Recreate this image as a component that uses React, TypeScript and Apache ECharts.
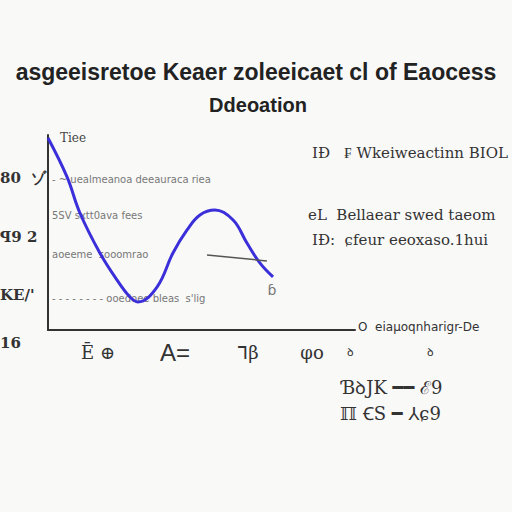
import React, { useEffect, useRef } from "react";
import * as echarts from "echarts";

const titleLines = ["asgeeisretoe Keaer zoleeicaet cl of Eaocess", "Ddeoation"];
const curveX = [0, 0.62, 1.04, 1.69, 2.25, 2.67, 2.93, 3.55, 4.07, 4.53, 4.95, 5.44, 6.03, 6.48, 6.9, 7.33];
const curveY = [9.85, 7.85, 6.0, 3.95, 2.56, 1.69, 1.44, 2.2, 3.95, 5.13, 5.9, 6.15, 5.64, 4.46, 3.44, 2.72];
const segX = [5.18, 7.13];
const segY = [3.85, 3.54];
const yLabels = ["80  ゾ", "ꟼ9 2", "KE/'", "16"];
const yLabelPos = [178, 237, 295, 343];
const xLabels = ["Ē ⊕", "A=", "ᒣβ", "φo", "ꝺ", "ꝺ"];
const xLabelPos = [98, 175, 248, 312, 350, 430];
const noteTexts = ["- ~ uealmeanoa deeauraca riea", "5SV sxtt0ava fees", "aoeeme  sooomrao", "- - - - - - - - ooedoee bleas  s'lig"];
const notePos = [179, 215, 254, 298];
const rightTexts = ["IÐ   ₣ Wkeiweactinn BIOL", "eL  Bellaear swed taeom", "IÐ:  ɕfeur eeoxaso.1hui", "O  eiaμoqnharigr-De"];
const rightPos = [[312, 153], [308, 215], [312, 240], [358, 327]];
const bottomTexts = ["ƁꝺJK ━━ ℰ9", "ℿ ꞒS ━ ⅄ɕ9"];
const bottomPos = [[342, 387], [340, 413]];

export default function App() {
  const ref = useRef<HTMLDivElement>(null);
  useEffect(() => {
    const chart = echarts.init(ref.current!, null, { renderer: "svg" });
    const graphic: any[] = [];
    graphic.push({ type: "text", x: 256, y: 72, style: { text: titleLines[0], font: "bold 23px 'Liberation Sans'", fill: "#222", align: "center", verticalAlign: "middle" } });
    graphic.push({ type: "text", x: 258, y: 105, style: { text: titleLines[1], font: "bold 20px 'Liberation Sans'", fill: "#222", align: "center", verticalAlign: "middle" } });
    graphic.push({ type: "text", x: 60, y: 138, style: { text: "Tiee", font: "12px 'DejaVu Serif'", fill: "#444", verticalAlign: "middle" } });
    yLabels.forEach((t, i) => graphic.push({ type: "text", x: 0, y: yLabelPos[i], style: { text: t, font: "bold 15px 'DejaVu Serif'", fill: "#333", verticalAlign: "middle" } }));
    xLabels.forEach((t, i) => graphic.push({ type: "text", x: xLabelPos[i], y: 352, style: { text: t, font: i === 1 ? "24px 'Liberation Sans'" : (i >= 4 ? "11px 'DejaVu Sans'" : "18px 'DejaVu Serif'"), fill: "#333", align: "center", verticalAlign: "middle" } }));
    noteTexts.forEach((t, i) => graphic.push({ type: "text", x: 52, y: notePos[i], style: { text: t, font: "10px 'DejaVu Sans'", fill: "#777", verticalAlign: "middle" } }));
    rightTexts.forEach((t, i) => graphic.push({ type: "text", x: rightPos[i][0], y: rightPos[i][1], style: { text: t, font: i === 3 ? "12px 'DejaVu Sans'" : "15px 'DejaVu Serif'", fill: "#333", verticalAlign: "middle" } }));
    bottomTexts.forEach((t, i) => graphic.push({ type: "text", x: bottomPos[i][0], y: bottomPos[i][1], style: { text: t, font: "18px 'DejaVu Serif'", fill: "#333", verticalAlign: "middle" } }));
    graphic.push({ type: "text", x: 272, y: 290, style: { text: "ɓ", font: "14px 'DejaVu Sans'", fill: "#777", align: "center", verticalAlign: "middle" } });

    chart.setOption({
      animation: false,
      backgroundColor: "#f9f9f8",
      grid: { left: 48, top: 135, width: 307, height: 195 },
      xAxis: { type: "value", min: 0, max: 10, axisLine: { show: true, lineStyle: { color: "#333", width: 2 } }, axisTick: { show: false }, axisLabel: { show: false }, splitLine: { show: false } },
      yAxis: { type: "value", min: 0, max: 10, axisLine: { show: true, lineStyle: { color: "#333", width: 2 } }, axisTick: { show: false }, axisLabel: { show: false }, splitLine: { show: false } },
      series: [
        { type: "line", data: curveX.map((x, i) => [x, curveY[i]]), smooth: 0.4, showSymbol: false, lineStyle: { color: "#3b2fd9", width: 3 } },
        { type: "line", data: segX.map((x, i) => [x, segY[i]]), showSymbol: false, lineStyle: { color: "#555", width: 1.5 } },
      ],
      graphic,
    });
    return () => chart.dispose();
  }, []);
  return <div ref={ref} style={{ position: "fixed", left: 0, top: 0, width: 512, height: 512 }} />;
}
